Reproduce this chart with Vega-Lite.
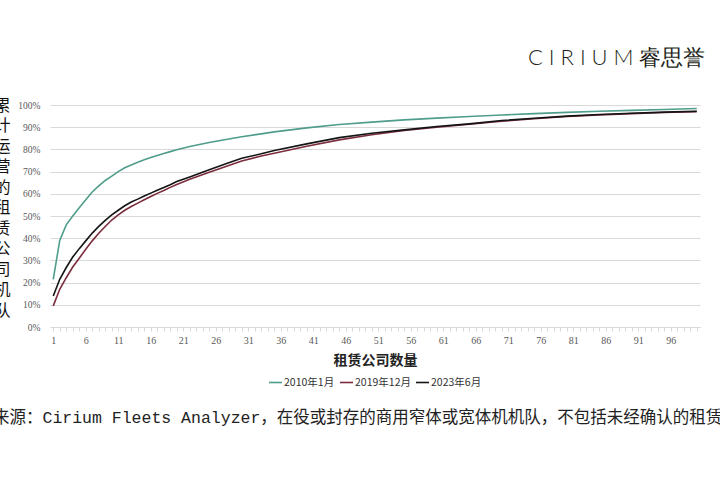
{
  "$schema": "https://vega.github.io/schema/vega-lite/v6.json",
  "width": 650,
  "height": 222,
  "autosize": "none",
  "padding": {"left": 50, "top": 105, "right": 20, "bottom": 153},
  "background": "white",
  "config": {"view": {"stroke": null}, "font": "Noto Sans CJK SC"},
  "title": {
    "text": "来源：Cirium Fleets Analyzer，在役或封存的商用窄体或宽体机机队，不包括未经确认的租赁公司。",
    "orient": "bottom", "anchor": "start", "frame": "group",
    "dx": -57, "offset": 22,
    "font": "Liberation Mono, Noto Sans CJK SC", "fontSize": 16.5, "fontWeight": "normal", "color": "#222222"
  },
  "datasets": {
    "fleet": [
      {"s":"2010年1月","n":1,"v":21.5},{"s":"2010年1月","n":2,"v":39},{"s":"2010年1月","n":3,"v":46},{"s":"2010年1月","n":4,"v":50},{"s":"2010年1月","n":5,"v":53.7},{"s":"2010年1月","n":6,"v":57.3},{"s":"2010年1月","n":7,"v":60.8},{"s":"2010年1月","n":8,"v":63.6},{"s":"2010年1月","n":9,"v":66},{"s":"2010年1月","n":10,"v":68},{"s":"2010年1月","n":11,"v":70},{"s":"2010年1月","n":12,"v":71.7},{"s":"2010年1月","n":13,"v":73},{"s":"2010年1月","n":14,"v":74.2},{"s":"2010年1月","n":15,"v":75.3},{"s":"2010年1月","n":16,"v":76.3},{"s":"2010年1月","n":17,"v":77.3},{"s":"2010年1月","n":18,"v":78.2},{"s":"2010年1月","n":19,"v":79},{"s":"2010年1月","n":20,"v":79.8},{"s":"2010年1月","n":22,"v":81.3},{"s":"2010年1月","n":25,"v":83.1},{"s":"2010年1月","n":28,"v":84.7},{"s":"2010年1月","n":30,"v":85.7},{"s":"2010年1月","n":33,"v":87},{"s":"2010年1月","n":35,"v":87.9},{"s":"2010年1月","n":40,"v":89.7},{"s":"2010年1月","n":45,"v":91.2},{"s":"2010年1月","n":50,"v":92.3},{"s":"2010年1月","n":55,"v":93.3},{"s":"2010年1月","n":60,"v":94.1},{"s":"2010年1月","n":65,"v":94.8},{"s":"2010年1月","n":70,"v":95.5},{"s":"2010年1月","n":75,"v":96.1},{"s":"2010年1月","n":80,"v":96.7},{"s":"2010年1月","n":85,"v":97.2},{"s":"2010年1月","n":90,"v":97.6},{"s":"2010年1月","n":95,"v":98},{"s":"2010年1月","n":100,"v":98.4},
      {"s":"2019年12月","n":1,"v":9.5},{"s":"2019年12月","n":2,"v":17},{"s":"2019年12月","n":3,"v":22.2},{"s":"2019年12月","n":4,"v":27},{"s":"2019年12月","n":5,"v":31},{"s":"2019年12月","n":6,"v":35},{"s":"2019年12月","n":7,"v":38.8},{"s":"2019年12月","n":8,"v":42.2},{"s":"2019年12月","n":9,"v":45.3},{"s":"2019年12月","n":10,"v":48.2},{"s":"2019年12月","n":11,"v":50.5},{"s":"2019年12月","n":12,"v":52.6},{"s":"2019年12月","n":13,"v":54.3},{"s":"2019年12月","n":14,"v":55.8},{"s":"2019年12月","n":15,"v":57.3},{"s":"2019年12月","n":16,"v":58.8},{"s":"2019年12月","n":17,"v":60.2},{"s":"2019年12月","n":18,"v":61.5},{"s":"2019年12月","n":19,"v":62.9},{"s":"2019年12月","n":20,"v":64.2},{"s":"2019年12月","n":22,"v":66.5},{"s":"2019年12月","n":25,"v":69.7},{"s":"2019年12月","n":28,"v":72.8},{"s":"2019年12月","n":30,"v":74.8},{"s":"2019年12月","n":33,"v":77},{"s":"2019年12月","n":35,"v":78.3},{"s":"2019年12月","n":40,"v":81.4},{"s":"2019年12月","n":45,"v":84.3},{"s":"2019年12月","n":50,"v":86.6},{"s":"2019年12月","n":55,"v":88.5},{"s":"2019年12月","n":60,"v":90},{"s":"2019年12月","n":65,"v":91.3},{"s":"2019年12月","n":70,"v":92.7},{"s":"2019年12月","n":75,"v":93.8},{"s":"2019年12月","n":80,"v":94.8},{"s":"2019年12月","n":85,"v":95.5},{"s":"2019年12月","n":90,"v":96.1},{"s":"2019年12月","n":95,"v":96.6},{"s":"2019年12月","n":100,"v":97},
      {"s":"2023年6月","n":1,"v":14},{"s":"2023年6月","n":2,"v":21.5},{"s":"2023年6月","n":3,"v":26.8},{"s":"2023年6月","n":4,"v":31.5},{"s":"2023年6月","n":5,"v":35.3},{"s":"2023年6月","n":6,"v":38.8},{"s":"2023年6月","n":7,"v":42.3},{"s":"2023年6月","n":8,"v":45.3},{"s":"2023年6月","n":9,"v":48},{"s":"2023年6月","n":10,"v":50.5},{"s":"2023年6月","n":11,"v":52.6},{"s":"2023年6月","n":12,"v":54.6},{"s":"2023年6月","n":13,"v":56.3},{"s":"2023年6月","n":14,"v":57.6},{"s":"2023年6月","n":15,"v":59},{"s":"2023年6月","n":16,"v":60.3},{"s":"2023年6月","n":17,"v":61.6},{"s":"2023年6月","n":18,"v":62.8},{"s":"2023年6月","n":19,"v":64.1},{"s":"2023年6月","n":20,"v":65.5},{"s":"2023年6月","n":22,"v":67.6},{"s":"2023年6月","n":25,"v":70.8},{"s":"2023年6月","n":28,"v":74},{"s":"2023年6月","n":30,"v":76},{"s":"2023年6月","n":33,"v":78},{"s":"2023年6月","n":35,"v":79.5},{"s":"2023年6月","n":40,"v":82.5},{"s":"2023年6月","n":45,"v":85.3},{"s":"2023年6月","n":50,"v":87.3},{"s":"2023年6月","n":55,"v":88.8},{"s":"2023年6月","n":60,"v":90.3},{"s":"2023年6月","n":65,"v":91.5},{"s":"2023年6月","n":70,"v":93},{"s":"2023年6月","n":75,"v":94},{"s":"2023年6月","n":80,"v":95},{"s":"2023年6月","n":85,"v":95.7},{"s":"2023年6月","n":90,"v":96.3},{"s":"2023年6月","n":95,"v":96.8},{"s":"2023年6月","n":100,"v":97.2}
    ]
  },
  "data": {"name": "fleet"},
  "layer": [
    {
      "mark": {"type": "line"},
      "encoding": {
        "x": {
          "field": "n", "type": "quantitative",
          "scale": {"domain": [0.5, 100.5], "nice": false, "zero": false},
          "axis": {
            "orient": "bottom",
            "values": [1,2,3,4,5,6,7,8,9,10,11,12,13,14,15,16,17,18,19,20,21,22,23,24,25,26,27,28,29,30,31,32,33,34,35,36,37,38,39,40,41,42,43,44,45,46,47,48,49,50,51,52,53,54,55,56,57,58,59,60,61,62,63,64,65,66,67,68,69,70,71,72,73,74,75,76,77,78,79,80,81,82,83,84,85,86,87,88,89,90,91,92,93,94,95,96,97,98,99,100],
            "labelExpr": "(datum.value - 1) % 5 == 0 ? datum.label : ''",
            "labelOverlap": false,
            "grid": false,
            "domainColor": "#d9d9d9",
            "tickColor": "#d9d9d9",
            "tickSize": 4,
            "labelFont": "Liberation Sans Narrow",
            "labelFontSize": 10,
            "labelColor": "#595959",
            "labelPadding": 4,
            "title": "租赁公司数量",
            "titleFont": "Noto Sans CJK SC",
            "titleFontSize": 14,
            "titleFontWeight": "bold",
            "titleColor": "#222222",
            "titlePadding": 8
          }
        },
        "y": {
          "field": "v", "type": "quantitative",
          "scale": {"domain": [0, 100], "nice": false},
          "axis": {
            "values": [0,10,20,30,40,50,60,70,80,90,100],
            "labelExpr": "datum.value + '%'",
            "grid": true,
            "gridColor": "#d9d9d9",
            "domain": false,
            "ticks": false,
            "labelPadding": 10,
            "labelFont": "Liberation Sans Narrow",
            "labelFontSize": 9.5,
            "labelColor": "#595959",
            "title": ["累","计","运","营","的","租","赁","公","司","机","队"],
            "titleAngle": 0,
            "titleAlign": "center",
            "titleBaseline": "top",
            "titleX": -48,
            "titleY": -8,
            "titleFont": "Noto Sans CJK SC",
            "titleFontSize": 16,
            "titleLineHeight": 20.5,
            "titleFontWeight": "normal",
            "titleColor": "#111111"
          }
        },
        "color": {
          "field": "s", "type": "nominal",
          "scale": {"domain": ["2010年1月","2019年12月","2023年6月"], "range": ["#4f9d8b","#7b2d3e","#141414"]},
          "legend": {
            "orient": "none", "legendX": 218, "legendY": 270,
            "direction": "horizontal", "title": null,
            "symbolType": "stroke", "symbolSize": 170, "symbolStrokeWidth": 2,
            "labelFont": "Liberation Sans Narrow, Noto Sans CJK SC",
            "labelFontSize": 10.5, "labelColor": "#333333",
            "columnPadding": 1, "labelOffset": 1
          }
        },
        "strokeWidth": {
          "field": "s", "type": "nominal",
          "scale": {"domain": ["2010年1月","2019年12月","2023年6月"], "range": [1.6, 1.6, 2.2]},
          "legend": null
        }
      }
    },
    {
      "mark": {"type": "rule", "opacity": 0},
      "encoding": {
        "x": {
          "field": "n", "type": "quantitative",
          "axis": {
            "orient": "top", "labels": false, "ticks": false, "domain": false, "grid": false,
            "title": "C I R I U M 睿思誉",
            "titleX": 655, "titleY": -48, "titleAlign": "right", "titleBaseline": "middle",
            "titleFont": "Lato", "titleFontSize": 22, "titleFontWeight": 300, "titleColor": "#231f20"
          }
        }
      }
    }
  ],
  "resolve": {"axis": {"x": "independent"}}
}
